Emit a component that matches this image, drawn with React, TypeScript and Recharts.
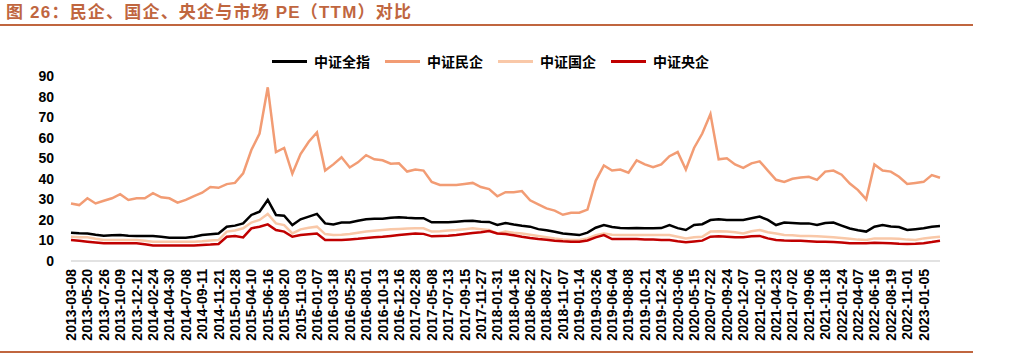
import { LineChart, Line, XAxis, YAxis } from 'recharts'

// 交易日（偶数位为横轴标注日期）
const dates = [
  '2013-03-08', '2013-04-15', '2013-05-20', '2013-06-24', '2013-07-26', '2013-08-30',
  '2013-10-09', '2013-11-11', '2013-12-12', '2014-01-17', '2014-02-24', '2014-03-27',
  '2014-04-30', '2014-06-04', '2014-07-08', '2014-08-08', '2014-09-11', '2014-10-17',
  '2014-11-21', '2014-12-24', '2015-01-28', '2015-03-09', '2015-04-10', '2015-05-13',
  '2015-06-16', '2015-07-17', '2015-08-20', '2015-09-25', '2015-11-03', '2015-12-04',
  '2016-01-07', '2016-02-16', '2016-03-18', '2016-04-21', '2016-05-25', '2016-06-28',
  '2016-08-01', '2016-09-05', '2016-10-13', '2016-11-14', '2016-12-16', '2017-01-20',
  '2017-02-28', '2017-04-05', '2017-05-08', '2017-06-09', '2017-07-13', '2017-08-14',
  '2017-09-15', '2017-10-24', '2017-11-27', '2017-12-28', '2018-01-31', '2018-03-12',
  '2018-04-16', '2018-05-18', '2018-06-22', '2018-07-25', '2018-08-27', '2018-09-28',
  '2018-11-07', '2018-12-10', '2019-01-14', '2019-02-22', '2019-03-26', '2019-04-29',
  '2019-06-04', '2019-07-05', '2019-08-08', '2019-09-11', '2019-10-21', '2019-11-21',
  '2019-12-24', '2020-02-04', '2020-03-06', '2020-04-09', '2020-05-15', '2020-06-18',
  '2020-07-22', '2020-08-24', '2020-09-24', '2020-11-04', '2020-12-07', '2021-01-08',
  '2021-02-10', '2021-03-19', '2021-04-23', '2021-05-31', '2021-07-02', '2021-08-03',
  '2021-09-06', '2021-10-15', '2021-11-18', '2021-12-20', '2022-01-24', '2022-03-02',
  '2022-04-07', '2022-05-12', '2022-06-16', '2022-07-18', '2022-08-19', '2022-09-22',
  '2022-11-01', '2022-12-02', '2023-01-05', '2023-02-13', '2023-03-20',
]

const tickLabels = [
  '2013-03-08', '2013-05-20', '2013-07-26', '2013-10-09', '2013-12-12', '2014-02-24',
  '2014-04-30', '2014-07-08', '2014-09-11', '2014-11-21', '2015-01-28', '2015-04-10',
  '2015-06-16', '2015-08-20', '2015-11-03', '2016-01-07', '2016-03-18', '2016-05-25',
  '2016-08-01', '2016-10-13', '2016-12-16', '2017-02-28', '2017-05-08', '2017-07-13',
  '2017-09-15', '2017-11-27', '2018-01-31', '2018-04-16', '2018-06-22', '2018-08-27',
  '2018-11-07', '2019-01-14', '2019-03-26', '2019-06-04', '2019-08-08', '2019-10-21',
  '2019-12-24', '2020-03-06', '2020-05-15', '2020-07-22', '2020-09-24', '2020-12-07',
  '2021-02-10', '2021-04-23', '2021-07-02', '2021-09-06', '2021-11-18', '2022-01-24',
  '2022-04-07', '2022-06-16', '2022-08-19', '2022-11-01', '2023-01-05',
]

const yTicks = [0, 10, 20, 30, 40, 50, 60, 70, 80, 90]

// 中证全指
const allShare = [
  13.8, 13.5, 13.4, 12.8, 12.3, 12.5, 12.6, 12.3, 12.2, 12.2, 12.2, 11.8, 11.3, 11.3, 11.3,
  11.8, 12.6, 13.0, 13.4, 16.7, 17.2, 18.3, 22.4, 24.0, 29.7, 22.4, 22.0, 17.5, 20.3, 21.6,
  22.9, 18.3, 17.8, 18.7, 18.7, 19.6, 20.3, 20.5, 20.5, 21.0, 21.3, 21.0, 20.8, 20.8, 18.8,
  18.8, 18.8, 19.1, 19.4, 19.6, 19.1, 19.0, 17.5, 18.5, 17.8, 17.2, 16.7, 15.5, 15.0, 14.2,
  13.4, 13.0, 12.6, 13.8, 16.2, 17.5, 16.5, 16.0, 15.9, 16.0, 15.9, 15.9, 16.0, 17.5, 16.0,
  15.1, 17.5, 17.9, 19.9, 20.3, 19.9, 19.9, 20.0, 20.8, 21.6, 20.0, 17.5, 18.7, 18.5, 18.3,
  18.3, 17.5, 18.5, 18.7, 17.2, 15.8, 15.0, 14.3, 16.7, 17.5, 16.8, 16.5, 15.1, 15.5, 15.9,
  16.7, 17.0,
]

// 中证民企
const privateEnt = [
  28.0, 27.2, 30.5, 28.0, 29.3, 30.5, 32.5, 29.7, 30.5, 30.5, 33.0, 31.0, 30.5, 28.4, 29.7,
  31.6, 33.2, 36.0, 35.6, 37.4, 38.0, 42.6, 54.0, 62.0, 84.5, 53.0, 55.0, 42.5, 52.0, 58.0,
  62.5, 44.0, 47.0, 50.5, 45.5, 48.0, 51.5, 49.5, 49.0, 47.3, 47.5, 43.5, 44.5, 44.0, 38.5,
  37.0, 37.0, 37.0, 37.5, 38.0, 36.0, 35.0, 31.5, 33.5, 33.5, 34.0, 29.5, 27.5, 25.6, 24.5,
  22.5, 23.5, 23.5, 25.0, 39.0, 46.5, 44.0, 44.5, 43.0, 49.0, 47.0, 45.6, 47.0, 51.0, 53.0,
  44.5, 55.0, 62.0, 71.5, 49.5, 50.0, 47.0, 45.3, 47.5, 48.5, 44.0, 39.5, 38.5, 40.0, 40.6,
  41.0, 39.5, 43.5, 44.0, 42.0, 37.7, 34.5, 30.0, 47.0, 44.0, 43.5, 41.0, 37.5, 38.0, 38.5,
  41.8, 40.5,
]

// 中证国企
const stateEnt = [
  11.8, 11.6, 11.5, 10.8, 10.2, 10.2, 10.2, 10.2, 10.2, 9.8, 9.4, 9.4, 9.4, 9.4, 9.4,
  9.4, 9.6, 10.0, 10.2, 14.3, 14.8, 15.9, 18.7, 20.0, 22.9, 18.3, 17.5, 13.4, 15.4, 16.2,
  16.7, 13.1, 12.6, 12.8, 13.1, 13.7, 14.3, 14.7, 15.1, 15.4, 15.6, 15.8, 15.9, 15.9, 14.3,
  14.5, 14.8, 15.1, 15.5, 15.9, 15.5, 15.1, 13.4, 14.3, 13.8, 13.4, 12.8, 12.2, 11.6, 11.0,
  10.5, 10.2, 10.2, 11.0, 12.6, 13.4, 12.8, 12.6, 12.6, 12.6, 12.6, 12.6, 12.6, 12.6, 11.8,
  11.0, 11.5, 11.8, 14.3, 14.5, 14.3, 14.0, 13.4, 14.5, 15.1, 14.0, 13.4, 12.6, 12.5, 12.2,
  12.2, 12.0, 11.8, 11.5, 11.2, 10.8, 10.4, 10.2, 11.0, 11.0, 11.0, 10.8, 10.4, 10.2, 11.0,
  11.4, 11.8,
]

// 中证央企
const centralEnt = [
  10.2, 9.8, 9.4, 9.0, 8.6, 8.6, 8.6, 8.6, 8.6, 8.1, 7.6, 7.6, 7.6, 7.6, 7.6,
  7.6, 7.8, 8.0, 8.3, 11.8, 12.2, 11.5, 15.9, 16.7, 17.8, 15.1, 14.3, 11.8, 12.6, 13.0,
  13.4, 10.2, 10.2, 10.2, 10.5, 10.8, 11.2, 11.5, 11.8, 12.2, 12.6, 13.0, 13.4, 13.2, 12.0,
  12.2, 12.3, 12.6, 13.1, 13.6, 14.0, 14.6, 13.4, 13.1, 12.5, 11.8, 11.2, 10.7, 10.3, 9.9,
  9.6, 9.4, 9.4, 10.0, 11.5, 12.6, 10.7, 10.7, 10.7, 10.7, 10.5, 10.4, 10.2, 10.2, 9.6,
  9.1, 9.5, 9.9, 11.8, 12.0, 11.8, 11.5, 11.5, 12.0, 12.2, 11.0, 10.2, 10.0, 9.9, 9.8,
  9.6, 9.4, 9.4, 9.2, 9.0, 8.6, 8.6, 8.6, 8.9, 8.8, 8.6, 8.4, 8.3, 8.4, 8.6,
  9.2, 9.9,
]

const series = [
  { key: 'all', name: '中证全指', color: '#000000', values: allShare },
  { key: 'private', name: '中证民企', color: '#F29C74', values: privateEnt },
  { key: 'state', name: '中证国企', color: '#F9C8A8', values: stateEnt },
  { key: 'central', name: '中证央企', color: '#C00000', values: centralEnt },
]

const data = dates.map((date, i) => {
  const row: Record<string, string | number> = { date }
  series.forEach((s) => {
    row[s.key] = s.values[i]
  })
  return row
})

const LATIN = '"Liberation Sans", Arial, "Noto Sans CJK SC", sans-serif'
const CJK = '"Noto Sans CJK SC", "Liberation Sans", sans-serif'
const BRAND = '#C0663F'

function DateTick({ x, y, payload }: any) {
  return (
    <text
      transform={`translate(${x},${y}) rotate(-90)`}
      textAnchor="end"
      dominantBaseline="central"
      fontSize={14}
      fontWeight={700}
      fontFamily={LATIN}
      fill="#000"
    >
      {payload.value}
    </text>
  )
}

export default function App() {
  return (
    <div
      style={{
        position: 'absolute',
        left: 0,
        top: 0,
        width: 1024,
        height: 356,
        background: '#fff',
        overflow: 'hidden',
      }}
    >
      <div
        style={{
          position: 'absolute',
          left: 6,
          top: 3,
          fontFamily: LATIN,
          fontWeight: 700,
          fontSize: 17,
          lineHeight: '20px',
          letterSpacing: 1.2,
          color: BRAND,
          whiteSpace: 'nowrap',
        }}
      >
        图 26：民企、国企、央企与市场 PE（TTM）对比
      </div>
      <div style={{ position: 'absolute', left: 0, top: 24, width: 973, height: 2, background: BRAND }} />
      <div style={{ position: 'absolute', left: 0, top: 351, width: 973, height: 2, background: BRAND }} />

      {/* legend */}
      <div style={{ position: 'absolute', left: 272, top: 51, display: 'flex', alignItems: 'center' }}>
        {series.map((s) => (
          <div key={s.key} style={{ display: 'flex', alignItems: 'center', marginRight: 15 }}>
            <div style={{ width: 35, height: 3, background: s.color, marginRight: 7 }} />
            <span style={{ fontFamily: CJK, fontWeight: 700, fontSize: 14, lineHeight: '20px', color: '#000' }}>
              {s.name}
            </span>
          </div>
        ))}
      </div>

      <div style={{ position: 'absolute', left: 0, top: 0 }}>
        <LineChart width={1024} height={356} data={data} margin={{ top: 76, right: 84, left: 21, bottom: 10 }}>
          <XAxis
            dataKey="date"
            ticks={tickLabels}
            interval={0}
            tick={<DateTick />}
            tickLine={false}
            axisLine={{ stroke: '#D9D9D9', strokeWidth: 1.5 }}
            height={85}
          />
          <YAxis
            domain={[0, 90]}
            ticks={yTicks}
            interval={0}
            width={50}
            axisLine={false}
            tickLine={false}
            tickMargin={11}
            tick={{ fontSize: 14, fontWeight: 700, fontFamily: LATIN, fill: '#000' }}
          />
          {series.map((s) => (
            <Line
              key={s.key}
              type="linear"
              dataKey={s.key}
              name={s.name}
              stroke={s.color}
              strokeWidth={2.5}
              dot={false}
              isAnimationActive={false}
            />
          ))}
        </LineChart>
      </div>
    </div>
  )
}
